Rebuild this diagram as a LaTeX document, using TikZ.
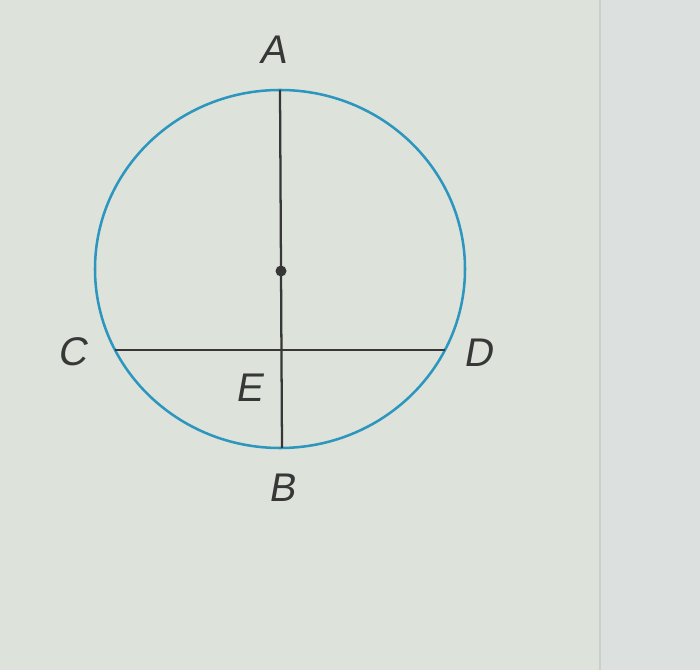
\documentclass[tikz,border=0pt]{standalone}
\usepackage{fontspec}
\setmainfont[FakeSlant=0.18]{Liberation Sans}
\definecolor{bg}{RGB}{221,226,219}
\definecolor{bgr}{RGB}{220,225,224}
\definecolor{circ}{RGB}{45,150,190}
\definecolor{ink}{RGB}{55,55,55}
\begin{document}
\begin{tikzpicture}[x=0.75pt,y=-0.75pt,
  lbl/.style={text=ink,font=\fontsize{30}{30}\selectfont,inner sep=0pt},
  seg/.style={draw=ink,line width=1.7pt}]
\useasboundingbox (0,0) rectangle (700,670);
\fill[bg] (0,0) rectangle (700,670);
\fill[bgr] (600,0) rectangle (700,670);
\draw[line width=1.5pt,color=bgr!92!black] (600,0) -- (600,670);
% points
\coordinate (O) at (281,271);
\coordinate (Ap) at (280,90);
\coordinate (Bp) at (282,448);
\coordinate (Cp) at (115,350);
\coordinate (Dp) at (445,350);
\draw[circ,line width=1.9pt] (280,269) ellipse [x radius=185,y radius=179];
\draw[seg] (Ap) -- (Bp);
\draw[seg] (Cp) -- (Dp);
\fill[ink] (O) circle (5.5);
\node[lbl] (A) at (273,50) {A};
\node[lbl] (B) at (282,488) {B};
\node[lbl] (C) at (72,352) {C};
\node[lbl] (D) at (478,353) {D};
\node[lbl] (E) at (249,388) {E};
\end{tikzpicture}
\end{document}
